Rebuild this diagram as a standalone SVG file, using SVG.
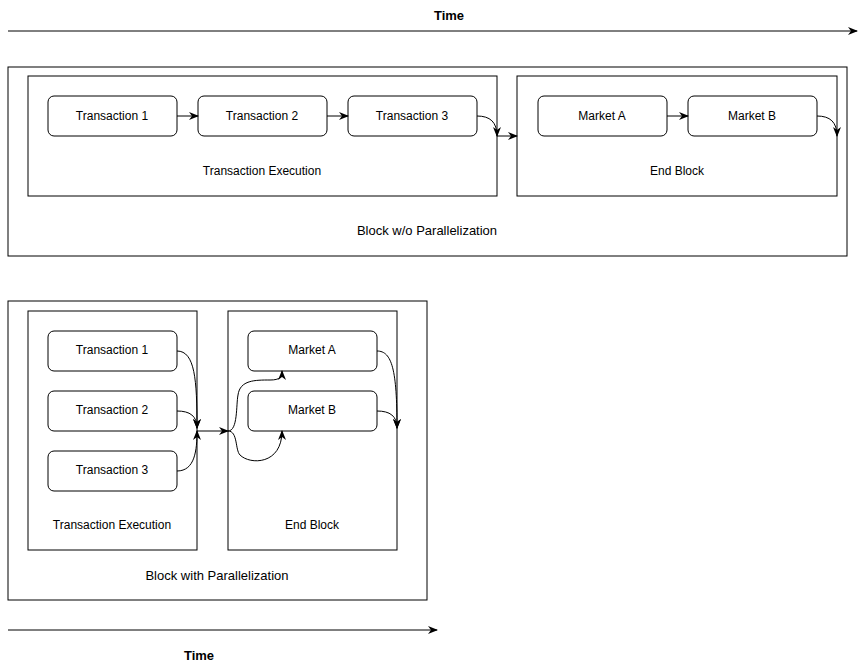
<svg xmlns="http://www.w3.org/2000/svg" width="866" height="671" viewBox="0 0 866 671">
<style>
.box{fill:#fff;stroke:#000;stroke-width:1}
.node{fill:#fff;stroke:#000;stroke-width:1}
text{font-family:"Liberation Sans",Arial,sans-serif;font-size:12px;text-anchor:middle;fill:#000}
.big{font-size:13px}
.b{font-weight:bold;font-size:13px}
.c{fill:none;stroke:#000;stroke-width:1;marker-end:url(#ah)}
</style>
<defs>
<marker id="ah" viewBox="0 0 10 10" refX="9" refY="5" markerWidth="10" markerHeight="10" markerUnits="userSpaceOnUse" orient="auto">
<path d="M0,1 L10,5 L0,9 L3,5 Z" fill="#000"/>
</marker>
</defs>
<rect width="866" height="671" fill="#fff"/>
<g id="top-block">
<rect class="box" x="8" y="67" width="839" height="189"/>
<text class="big" x="427" y="235">Block w/o Parallelization</text>
</g>
<g id="top-te"><rect class="box" x="28" y="76" width="469" height="120"/><text x="262" y="175">Transaction Execution</text></g>
<g id="top-end"><rect class="box" x="517" y="76" width="320" height="120"/><text x="677" y="175">End Block</text></g>
<g id="t1"><rect class="node" x="48" y="96" width="129" height="40" rx="6"/><text x="112" y="120">Transaction 1</text></g>
<g id="t2"><rect class="node" x="198" y="96" width="129" height="40" rx="6"/><text x="262" y="120">Transaction 2</text></g>
<g id="t3"><rect class="node" x="348" y="96" width="129" height="40" rx="6"/><text x="412" y="120">Transaction 3</text></g>
<g id="ma"><rect class="node" x="538" y="96" width="129" height="40" rx="6"/><text x="602" y="120">Market A</text></g>
<g id="mb"><rect class="node" x="688" y="96" width="129" height="40" rx="6"/><text x="752" y="120">Market B</text></g>

<g id="bot-block"><rect class="box" x="8" y="301" width="419" height="299"/><text class="big" x="217" y="580">Block with Parallelization</text></g>
<g id="bot-te"><rect class="box" x="28" y="311" width="169" height="239"/><text x="112" y="529">Transaction Execution</text></g>
<g id="bot-end"><rect class="box" x="228" y="311" width="169" height="239"/><text x="312" y="529">End Block</text></g>
<g id="pt1"><rect class="node" x="48" y="331" width="129" height="40" rx="6"/><text x="112" y="354">Transaction 1</text></g>
<g id="pt2"><rect class="node" x="48" y="391" width="129" height="40" rx="6"/><text x="112" y="414">Transaction 2</text></g>
<g id="pt3"><rect class="node" x="48" y="451" width="129" height="40" rx="6"/><text x="112" y="474">Transaction 3</text></g>
<g id="pma"><rect class="node" x="248" y="331" width="129" height="40" rx="6"/><text x="312" y="354">Market A</text></g>
<g id="pmb"><rect class="node" x="248" y="391" width="129" height="40" rx="6"/><text x="312" y="414">Market B</text></g>

<g id="time-labels">
<text class="b" x="449" y="20">Time</text>
<text class="b" x="199" y="660">Time</text>
</g>

<g id="connectors">
<path class="c" d="M8,31 L857,31"/>
<path class="c" d="M8,630 L437,630"/>
<path class="c" d="M177,116 L198,116"/>
<path class="c" d="M327,116 L348,116"/>
<path class="c" d="M477,116 C490,116 497,122 497,136"/>
<path class="c" d="M497,136 L517,136"/>
<path class="c" d="M667,116 L688,116"/>
<path class="c" d="M817,116 C830,116 837,122 837,136"/>
<path class="c" d="M177,351 C195,351 197,380 197,428"/>
<path class="c" d="M177,411 C190,411 197,416 197,428"/>
<path class="c" d="M177,471 C195,471 197,450 197,431"/>
<path class="c" d="M197,431 L228,431"/>
<path class="c" d="M228,431 C238,431 236,405 238,395 C240,380 255,380 270,380 C280,380 282,377 282,371"/>
<path class="c" d="M228,431 C238,431 235,450 240,455 C250,465 282,465 282,431"/>
<path class="c" d="M377,351 C392,351 397,370 397,428"/>
<path class="c" d="M377,411 C390,411 397,416 397,428"/>
</g>
</svg>
